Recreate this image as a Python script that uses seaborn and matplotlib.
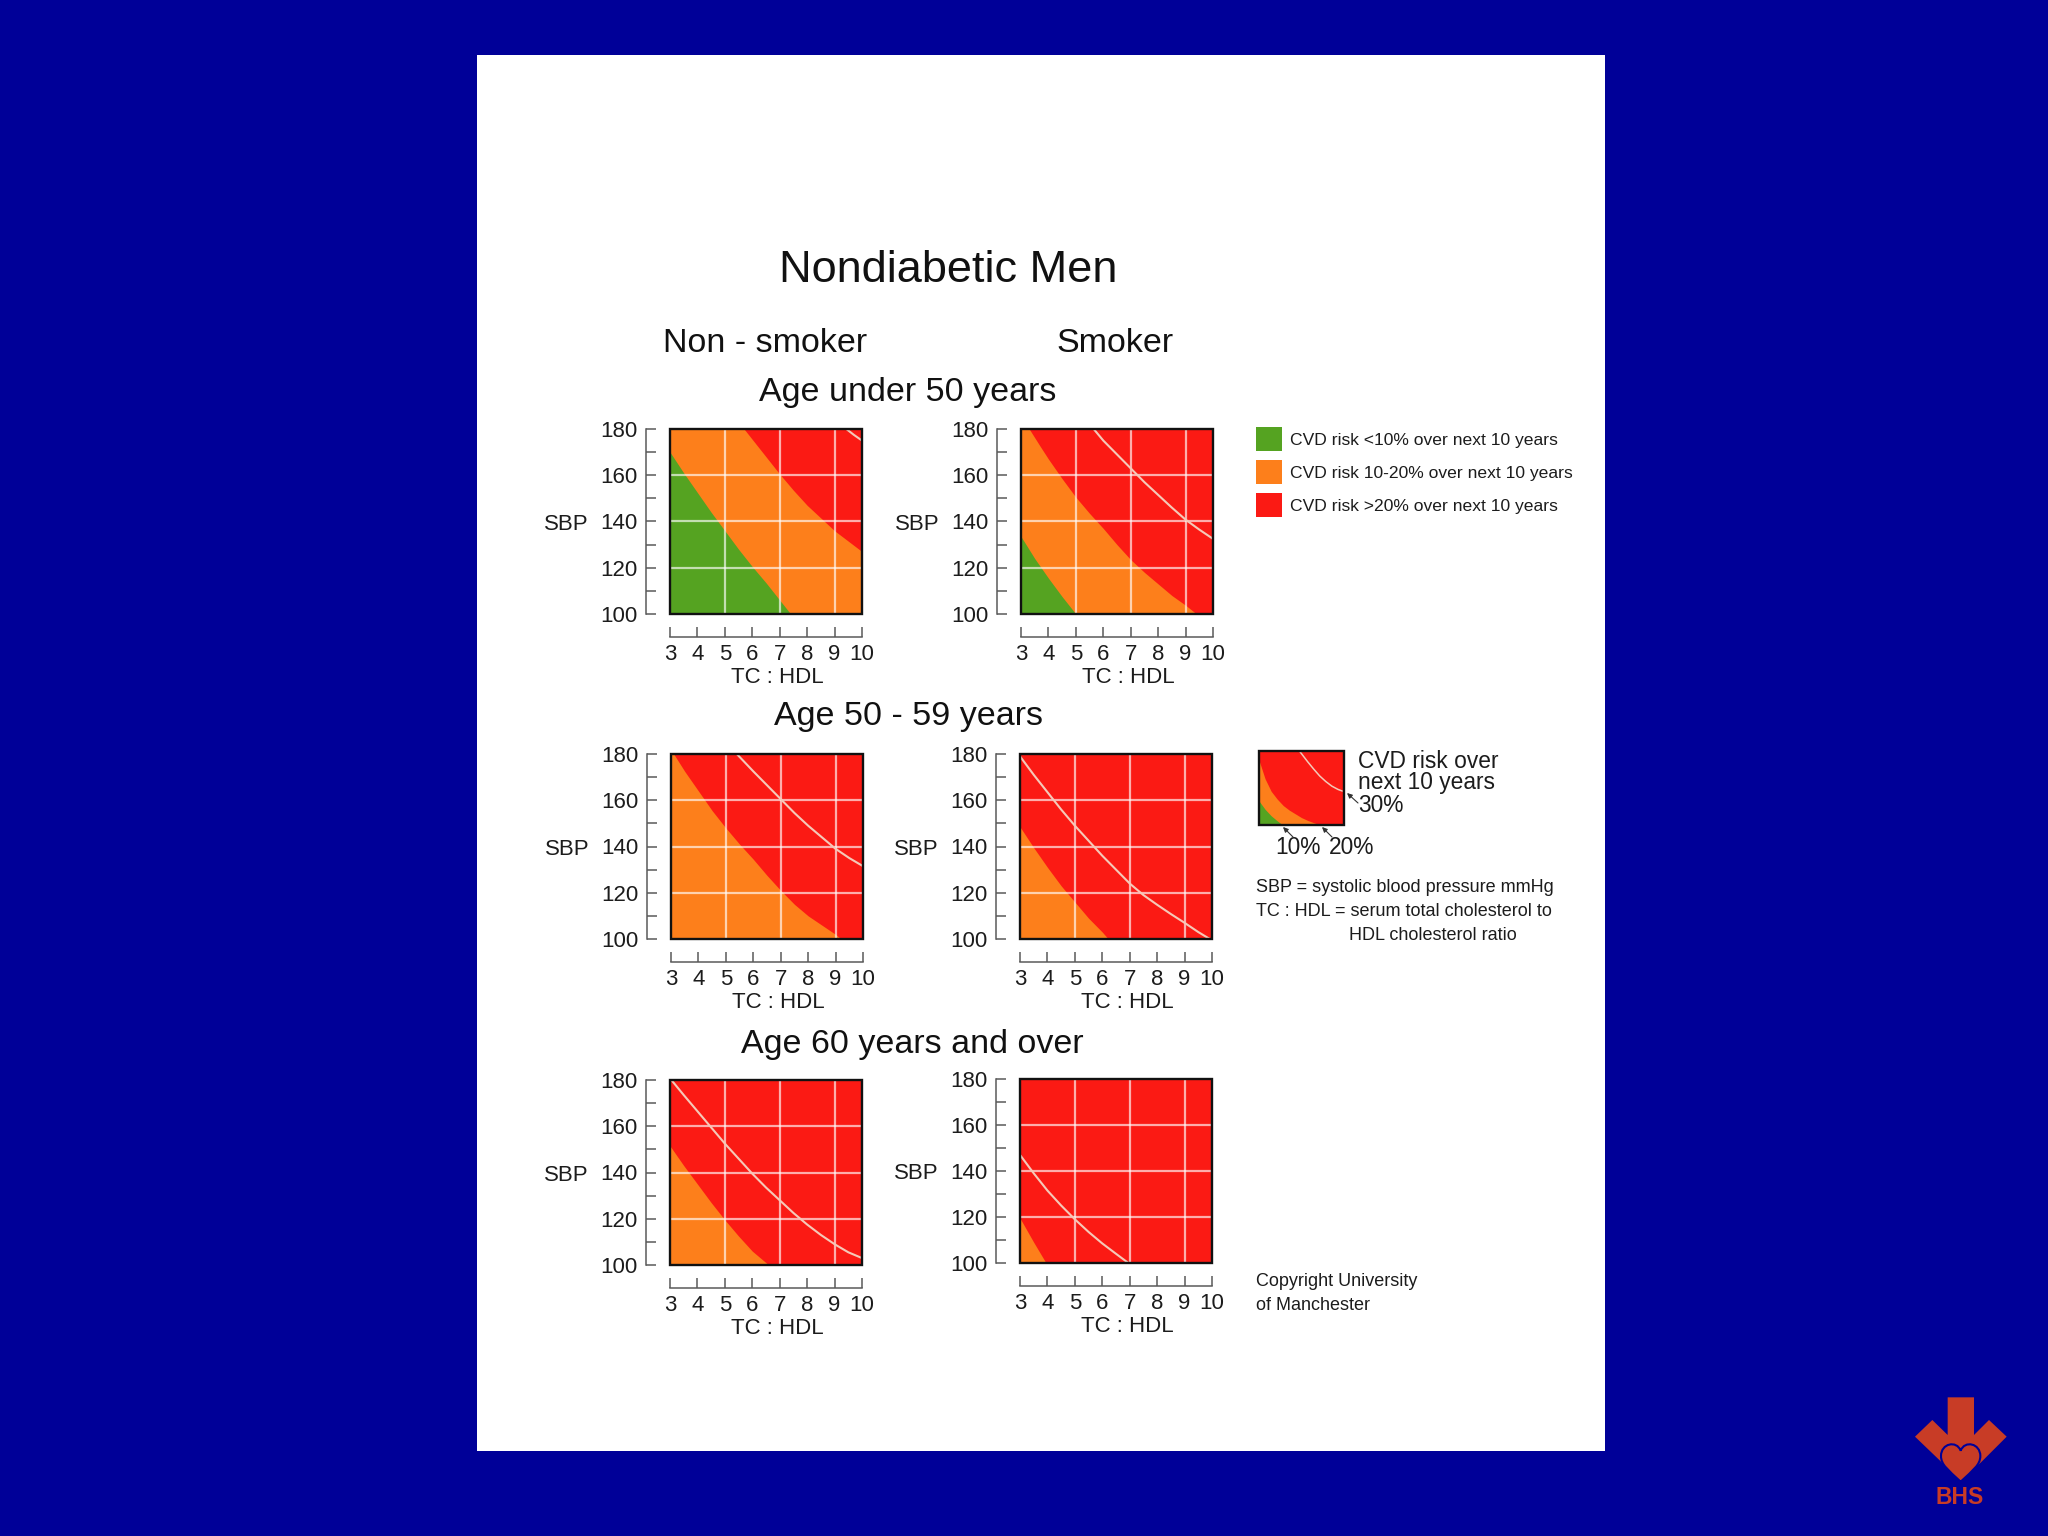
#!/usr/bin/env python3

# Import libraries
import matplotlib
matplotlib.use("Agg")
import matplotlib.pyplot as plt
from matplotlib.patches import Patch, PathPatch, Polygon, Rectangle
from matplotlib.path import Path
import seaborn as sns

# Axis ticks and grid of the small charts
x_ticks = [3, 4, 5, 6, 7, 8, 9, 10]
y_major = [100, 120, 140, 160, 180]
y_minor = [110, 130, 150, 170]
grid_x = [5, 7, 9]
grid_y = [120, 140, 160]

# Risk curves (TC:HDL, SBP)
# Age under 50, non-smoker
a_ns_10x = [3, 3.5, 4, 4.5, 5, 5.5, 6, 6.5, 7, 7.4]
a_ns_10y = [170, 161, 152.5, 144, 136, 128, 120.5, 113.5, 106, 100]
a_ns_20x = [5.7, 6, 6.5, 7, 7.5, 8, 8.5, 9, 9.5, 10]
a_ns_20y = [180, 175.5, 168, 160.5, 153.5, 147, 141.5, 136, 131.5, 127]
a_ns_30x = [9.43, 9.7, 10]
a_ns_30y = [180, 177.5, 175]
# Age under 50, smoker
a_s_10x = [3, 3.5, 4, 4.5, 5]
a_s_10y = [133.5, 124, 115.5, 107.5, 100]
a_s_20x = [3.3, 3.7, 4, 4.5, 5, 5.5, 6, 6.5, 7, 7.5, 8, 8.5, 9, 9.4]
a_s_20y = [180, 172.5, 167, 158.5, 150.5, 143.5, 137, 130, 123.5, 118, 113, 108, 103.8, 100]
a_s_30x = [5.65, 6, 6.5, 7, 7.5, 8, 8.5, 9, 9.5, 10]
a_s_30y = [180, 175, 169, 163, 157, 151.5, 146, 140.8, 136.5, 132.5]
# Age 50-59, non-smoker
b_ns_20x = [3.1, 3.5, 4, 4.5, 5, 5.5, 6, 6.5, 7, 7.5, 8, 8.5, 9, 9.2]
b_ns_20y = [180, 172.5, 164, 155.5, 148, 141, 134.5, 127.5, 121, 115, 110, 106, 102, 100]
b_ns_30x = [5.4, 6, 6.5, 7, 7.5, 8, 8.5, 9, 9.5, 10]
b_ns_30y = [180, 172.5, 166.5, 160.5, 154.5, 149, 144, 139, 135, 131.5]
# Age 50-59, smoker
b_s_20x = [3, 3.5, 4, 4.5, 5, 5.5, 6, 6.22]
b_s_20y = [148.5, 139.5, 131, 123, 116, 109, 103, 100]
b_s_30x = [3, 3.5, 4, 4.5, 5, 5.5, 6, 6.5, 7, 7.5, 8, 8.5, 9, 9.5, 9.92]
b_s_30y = [179, 171, 163.5, 156, 149, 142.5, 136, 130, 124, 119, 114.8, 110.8, 107, 103, 100]
# Age 60 and over, non-smoker
c_ns_20x = [3, 3.5, 4, 4.5, 5, 5.5, 6, 6.6]
c_ns_20y = [151.5, 143, 135, 127, 119.5, 112.5, 106, 100]
c_ns_30x = [3.05, 3.5, 4, 4.5, 5, 5.5, 6, 6.5, 7, 7.5, 8, 8.5, 9, 9.5, 10]
c_ns_30y = [180, 173.5, 166.5, 159.5, 152.5, 146, 139.5, 133.5, 128, 122.5, 117.5, 113, 109, 105.5, 103]
# Age 60 and over, smoker
c_s_20x = [3, 3.5, 3.95]
c_s_20y = [119.5, 109, 100]
c_s_30x = [3, 3.5, 4, 4.5, 5, 5.5, 6, 6.5, 6.95]
c_s_30y = [147, 139, 131.5, 125, 119, 113.5, 108.5, 104, 100]
# Small key chart
key_10x = [3, 3.5, 4, 4.5, 4.96]
key_10y = [126, 117, 110, 104.5, 100]
key_20x = [3, 3.5, 4, 4.5, 5, 5.5, 6, 6.5, 7, 7.5, 8.07]
key_20y = [170, 150, 136.5, 128, 121, 116, 112, 108, 105, 102.5, 100]
key_30x = [6.33, 7, 7.5, 8, 8.5, 9, 9.5, 9.86]
key_30y = [180, 168.5, 160.5, 153, 147, 142, 138.5, 136.7]

# Texts
legend_labels = ["CVD risk <10% over next 10 years",
                 "CVD risk 10-20% over next 10 years",
                 "CVD risk >20% over next 10 years"]

# Colours
navy = "#000098"
red = "#fb1a14"
orange = "#fd7f1b"
green = "#55a321"
logo_red = "#c83c26"
text_col = "#1c1c1c"
axis_col = "#5a5a5a"

# Visualisation
sns.set_theme(style="white")
plt.rcParams["font.family"] = ["Liberation Sans", "DejaVu Sans"]
fig = plt.figure(figsize=(20.48, 15.36), dpi=100, facecolor=navy)
W, H = 2048.0, 1536.0

# Full figure axes in pixels for the page, free text and the logo
bg = fig.add_axes([0, 0, 1, 1], zorder=-1)
bg.set_xlim(0, W)
bg.set_ylim(H, 0)
bg.axis("off")
bg.add_patch(Rectangle((477, 55), 1128, 1396, fc="white", ec="none"))


def make_axes(x0, x1, y0, y1):
    return fig.add_axes([x0 / W, 1 - y1 / H, (x1 - x0) / W, (y1 - y0) / H])


def fill_curve(ax, xs, ys, colour, z):
    # a curve that starts on the top edge still has everything to its left below it
    if xs[0] > 3:
        xs = [3] + xs
        ys = [180] + ys
    ax.fill_between(xs, 100, ys, color=colour, lw=0, zorder=z)


def draw_risk(ax, c10, c20, c30, lw=1.5):
    ax.set_facecolor(red)
    ax.set_xlim(3, 10)
    ax.set_ylim(100, 180)
    fill_curve(ax, c20[0], c20[1], orange, 1)
    if c10 is not None:
        fill_curve(ax, c10[0], c10[1], green, 1.5)
    sns.lineplot(x=c30[0], y=c30[1], ax=ax, color="#f5c9b8", lw=lw,
                 errorbar=None, sort=False, zorder=4)
    ax.add_patch(Rectangle((0, 0), 1, 1, transform=ax.transAxes, fill=False,
                           ec="#111111", lw=1.7, clip_on=False, zorder=6))


def panel(box, c10, c20, c30):
    ax = make_axes(*box)
    draw_risk(ax, c10, c20, c30)
    for g in grid_x:
        ax.axvline(g, color="white", alpha=0.65, lw=1.6, zorder=3)
    for g in grid_y:
        ax.axhline(g, color="white", alpha=0.65, lw=1.6, zorder=3)
    ax.spines[["top", "right"]].set_visible(False)
    ax.spines["left"].set_position(("outward", 17))
    ax.spines["bottom"].set_position(("outward", 16.6))
    for s in ["left", "bottom"]:
        ax.spines[s].set_color(axis_col)
        ax.spines[s].set_linewidth(1.1)
    ax.set_xticks(x_ticks)
    ax.set_yticks(y_major)
    ax.set_yticks(y_minor, minor=True)
    ax.tick_params(axis="both", which="both", direction="in", length=7.3,
                   width=1.1, color=axis_col, left=True, bottom=True)
    ax.tick_params(axis="both", which="major", labelsize=16, labelcolor=text_col)
    ax.tick_params(axis="y", which="major", pad=6.5)
    ax.tick_params(axis="x", which="major", pad=5)
    ax.set_xlabel("TC : HDL", fontsize=16, color=text_col, va="center")
    ax.xaxis.set_label_coords(0.56, -0.345)
    ax.set_ylabel("SBP", fontsize=16, color=text_col, rotation=0, ha="center", va="center")
    ax.yaxis.set_label_coords(-0.54, 0.485)
    return ax


# The six charts
panel((670, 862, 429, 614), (a_ns_10x, a_ns_10y), (a_ns_20x, a_ns_20y), (a_ns_30x, a_ns_30y))
panel((1021, 1213, 429, 614), (a_s_10x, a_s_10y), (a_s_20x, a_s_20y), (a_s_30x, a_s_30y))
panel((671, 863, 754, 939), None, (b_ns_20x, b_ns_20y), (b_ns_30x, b_ns_30y))
panel((1020, 1212, 754, 939), None, (b_s_20x, b_s_20y), (b_s_30x, b_s_30y))
panel((670, 862, 1080, 1265), None, (c_ns_20x, c_ns_20y), (c_ns_30x, c_ns_30y))
panel((1020, 1212, 1079, 1263), None, (c_s_20x, c_s_20y), (c_s_30x, c_s_30y))

# Key chart
key = make_axes(1259, 1344, 751, 825)
draw_risk(key, (key_10x, key_10y), (key_20x, key_20y), (key_30x, key_30y), lw=1.1)
key.set_xticks([])
key.set_yticks([])
for s in key.spines.values():
    s.set_visible(False)

# Titles
for txt, px, py, size in [("Nondiabetic Men", 948, 271, 32.5),
                          ("Non - smoker", 765, 344, 24.5),
                          ("Smoker", 1115, 344, 24.5),
                          ("Age under 50 years", 908, 393, 24.5),
                          ("Age 50 - 59 years", 909, 717, 24.5),
                          ("Age 60 years and over", 912, 1045, 24.5)]:
    bg.text(px, py, txt, fontsize=size, color="#111111", ha="center", va="center")

# Colour legend
handles = [Patch(fc=c, ec="none") for c in [green, orange, red]]
fig.legend(handles, legend_labels, loc="upper left",
           bbox_to_anchor=(1256 / W, 1 - 427 / H), frameon=False, fontsize=12.6,
           handlelength=1.47, handleheight=1.71, labelspacing=0.53,
           handletextpad=0.45, borderpad=0, borderaxespad=0, labelcolor=text_col)

# Key chart notes
for txt, px, py in [("CVD risk over", 1358, 761), ("next 10 years", 1358, 783), ("30%", 1358, 806)]:
    bg.text(px, py, txt, fontsize=16.4, color=text_col, va="center")
for txt, px in [("10%", 1298), ("20%", 1352)]:
    bg.text(px, 847, txt, fontsize=16.4, color=text_col, ha="center", va="center")
for tip, tail in [((1347, 793), (1358, 803)), ((1283, 827), (1293, 837)), ((1322, 827), (1332, 837))]:
    bg.annotate("", xy=tip, xytext=tail,
                arrowprops=dict(arrowstyle="-|>,head_width=0.12,head_length=0.25",
                                color="#333333", lw=0.8, shrinkA=0, shrinkB=0))

# Definitions and copyright
for txt, px, py in [("SBP = systolic blood pressure mmHg", 1256, 887),
                    ("TC : HDL = serum total cholesterol to", 1256, 912),
                    ("HDL cholesterol ratio", 1349, 936),
                    ("Copyright University", 1256, 1282),
                    ("of Manchester", 1256, 1306)]:
    bg.text(px, py, txt, fontsize=13, color=text_col, va="center")


# BHS logo, drawn from its crop coordinates
def lg(px, py):
    return (1880 + px / 3.0, 1380 + py / 3.0)


arrow_pts = [(203, 52), (282, 52), (282, 165), (327, 120), (380, 170), (305, 245),
             (242, 305), (178, 240), (105, 170), (157, 120), (203, 165)]
bg.add_patch(Polygon([lg(*p) for p in arrow_pts], closed=True, fc=logo_red, ec="none"))
heart_codes = [Path.MOVETO] + [Path.CURVE4] * 12
heart_pts = [(242, 305), (205, 270), (183, 255), (183, 228), (183, 190), (230, 180), (242, 212),
             (254, 180), (301, 190), (301, 228), (301, 255), (279, 270), (242, 305)]
bg.add_patch(PathPatch(Path([lg(*p) for p in heart_pts], heart_codes),
                       fc=logo_red, ec=navy, lw=1.5))
bg.text(1960, 1498, "BHS", fontsize=16.5, fontweight="bold", color=logo_red,
        ha="center", va="center")

# Save plot as png figure
fig.savefig("out.png", dpi=100, facecolor=fig.get_facecolor())
